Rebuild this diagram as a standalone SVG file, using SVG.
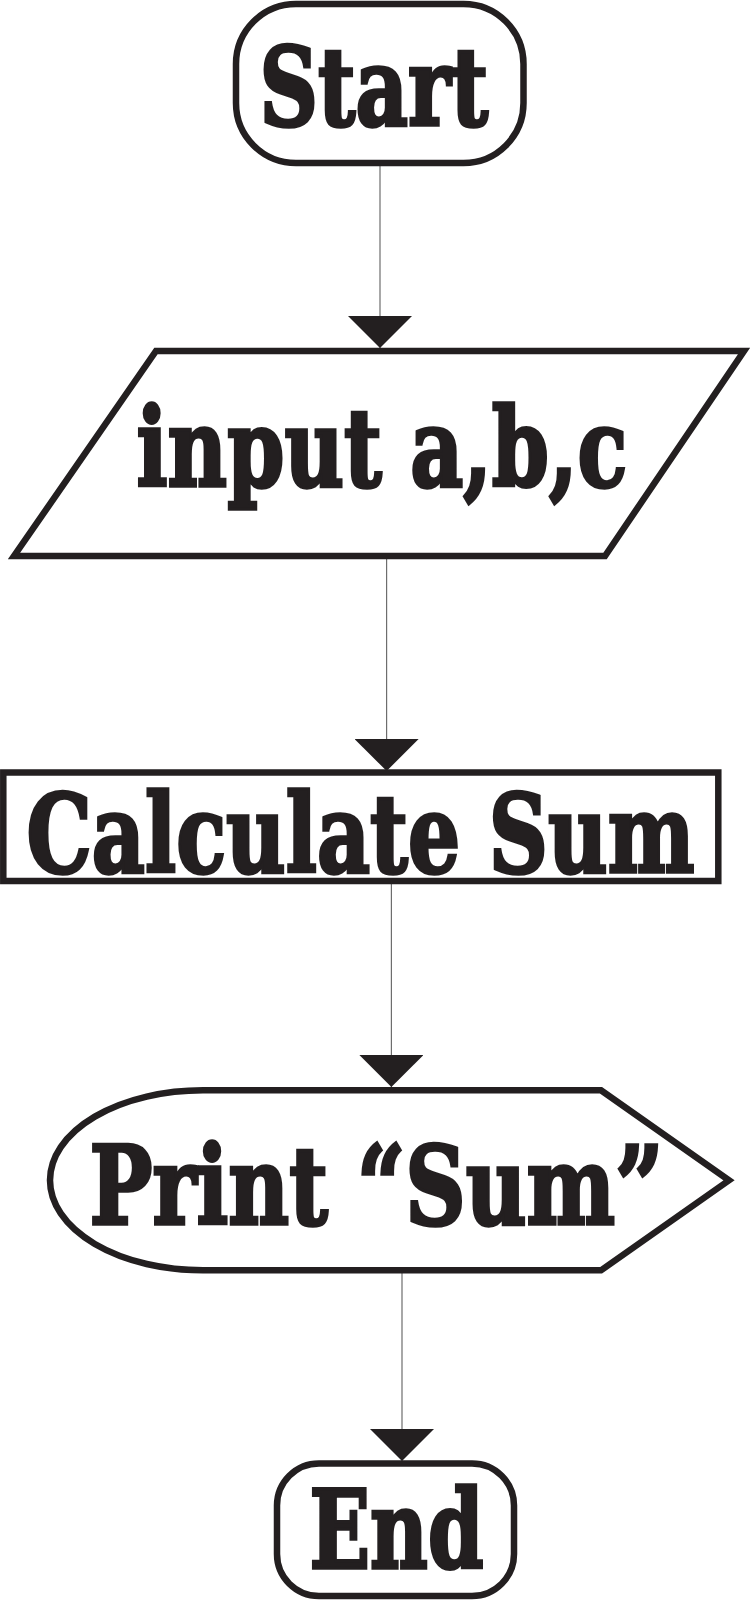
<svg xmlns="http://www.w3.org/2000/svg" width="750" height="1600" viewBox="0 0 750 1600">
  <style>
    .shape { fill: #ffffff; stroke: #231f20; stroke-width: 6.5; stroke-linejoin: miter; }
    .label { font-family: "DejaVu Serif", "Liberation Serif", serif; font-weight: bold; font-size: 108px; fill: #231f20; stroke: #231f20; stroke-width: 3.5; stroke-linejoin: miter; }
    .conn { stroke: #6d6d6d; stroke-width: 1.2; fill: none; marker-end: url(#arrow); }
  </style>
  <defs>
    <marker id="arrow" viewBox="0 0 32 64" refX="32" refY="32" markerWidth="32" markerHeight="64" markerUnits="userSpaceOnUse" orient="auto">
      <path d="M0,0 L32,32 L0,64 Z" fill="#231f20"/>
    </marker>
  </defs>
  <rect width="750" height="1600" fill="#ffffff"/>

  <g id="connectors">
    <line class="conn" x1="380" y1="166" x2="380" y2="348"/>
    <line class="conn" x1="386.6" y1="559" x2="386.6" y2="771"/>
    <line class="conn" x1="391.4" y1="884" x2="391.4" y2="1087"/>
    <line class="conn" x1="402" y1="1273" x2="402" y2="1461"/>
  </g>

  <g id="node-start">
    <rect class="shape" x="236" y="4" width="287.5" height="159" rx="60" ry="60"/>
    <text class="label" transform="translate(259.5,125) scale(0.76,1)" x="0" y="0" textLength="301" lengthAdjust="spacingAndGlyphs">Start</text>
  </g>

  <g id="node-input">
    <polygon class="shape" points="156,351 744,351 605,556 14,556"/>
    <text class="label" transform="translate(136.5,486) scale(0.76,1)" x="0" y="0" textLength="646" lengthAdjust="spacingAndGlyphs">input a,b,c</text>
  </g>

  <g id="node-calc">
    <rect class="shape" x="3.3" y="772.5" width="715" height="108.5"/>
    <text class="label" transform="translate(26.5,871.5) scale(0.76,1)" x="0" y="0" textLength="879" lengthAdjust="spacingAndGlyphs">Calculate Sum</text>
  </g>

  <g id="node-print">
    <path class="shape" d="M203,1090.3 L601,1090.3 L729,1180.3 L601,1270.3 L203,1270.3 A153,90 0 0 1 203,1090.3 Z"/>
    <text class="label" transform="translate(89.5,1224) scale(0.76,1)" x="0" y="0" textLength="755" lengthAdjust="spacingAndGlyphs">Print “Sum”</text>
  </g>

  <g id="node-end">
    <rect class="shape" x="277" y="1463.5" width="237" height="132.5" rx="42" ry="42"/>
    <text class="label" transform="translate(309.5,1568) scale(0.76,1)" x="0" y="0" textLength="229" lengthAdjust="spacingAndGlyphs">End</text>
  </g>
</svg>
